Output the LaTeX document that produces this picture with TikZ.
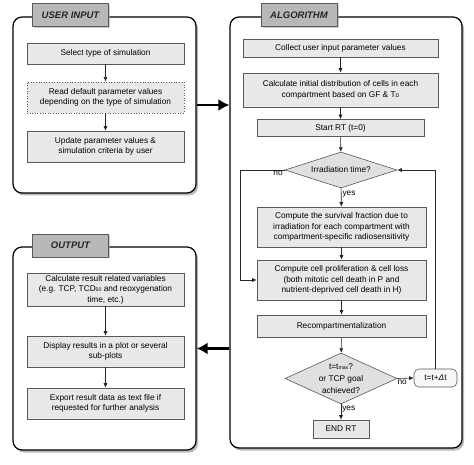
\documentclass[tikz,border=0pt]{standalone}
\usepackage{fontspec}
\setmainfont{Liberation Sans}
\usetikzlibrary{arrows.meta,shapes.geometric,shadows}
\newcommand{\smallsub}[1]{{\fontsize{5.2}{5.2}\selectfont #1}}

\begin{document}
\begin{tikzpicture}[
    x=1pt, y=-1pt,
    every node/.style={font=\fontsize{8.3}{10.5}\selectfont},
    frame/.style={rectangle, rounded corners=9pt, draw=black, line width=1.2pt,
        fill=white, drop shadow={shadow xshift=2pt, shadow yshift=-2.5pt, fill=black!55}},
    tab/.style={rectangle, draw=black!65, line width=0.8pt, fill=black!28,
        minimum width=76pt, minimum height=23pt, text=black!85,
        font=\fontsize{9.5}{11}\selectfont\bfseries\itshape,
        drop shadow={shadow xshift=1.5pt, shadow yshift=-1.5pt, fill=black!40}},
    stepbox/.style={rectangle, draw=black!65, line width=0.6pt, fill=black!9,
        align=center, inner sep=2pt},
    dotbox/.style={stepbox, dotted, line width=0.8pt},
    decision/.style={diamond, draw=black!65, line width=0.6pt, fill=black!12,
        align=center, inner sep=0pt, minimum width=112pt},
    conn/.style={draw=black!85, line width=0.6pt, -{Latex[length=4.5pt,width=4pt]}},
    bigarrow/.style={draw=black, line width=2.5pt, -{Latex[length=11pt,width=12pt]}},
    lbl/.style={font=\fontsize{8.3}{9}\selectfont, inner sep=1pt},
]
\useasboundingbox (0,0) rectangle (474,465);

% frames
\node[frame, minimum width=183pt, minimum height=176pt] (uiframe) at (104.5,105) {};
\node[frame, minimum width=232pt, minimum height=431pt] (algframe) at (346,232.5) {};
\node[frame, minimum width=183pt, minimum height=203pt] (outframe) at (104.5,348.5) {};

\node[tab] (uitab) at (70.5,15) {USER INPUT};
\node[tab] (algtab) at (299,15) {ALGORITHM};
\node[tab] (outtab) at (70.5,245.5) {OUTPUT};

% user input
\node[stepbox, minimum width=157pt, minimum height=21pt] (ui1) at (105.5,53.5) {Select type of simulation};
\node[dotbox, minimum width=157pt, minimum height=31pt] (ui2) at (105.5,97.5)
    {Read default parameter values\\depending on the type of simulation};
\node[stepbox, minimum width=157pt, minimum height=31pt] (ui3) at (105.5,146.5)
    {Update parameter values \&\\simulation criteria by user};

% algorithm
\node[stepbox, minimum width=195pt, minimum height=18pt] (a1) at (340.5,48) {Collect user input parameter values};
\node[stepbox, minimum width=195pt, minimum height=34pt] (a2) at (340.5,90)
    {Calculate initial distribution of cells in each\\compartment based on GF \& T\smallsub{D}};
\node[stepbox, minimum width=167pt, minimum height=17pt] (a3) at (340.5,128) {Start RT (t=0)};
\node[decision, minimum height=36pt, aspect=3.1] (d1) at (341,170) {Irradiation time?};
\node[stepbox, minimum width=169pt, minimum height=40pt] (a4) at (341.5,227)
    {Compute the survival fraction due to\\irradiation for each compartment with\\compartment-specific radiosensitivity};
\node[stepbox, minimum width=169pt, minimum height=40pt] (a5) at (341.5,280)
    {Compute cell proliferation \& cell loss\\(both mitotic cell death in P and\\nutrient-deprived cell death in H)};
\node[stepbox, minimum width=169pt, minimum height=22pt] (a6) at (341.5,326) {Recompartmentalization};
\node[decision, minimum height=51pt, aspect=2.2, font=\fontsize{8.3}{12}\selectfont] (d2) at (341,378.5)
    {t=t\smallsub{max}?\\or TCP goal\\achieved?};
\node[stepbox, rounded corners=5pt, fill=black!3, minimum width=43pt, minimum height=18pt] (tstep) at (435.5,378)
    {t=t+\textit{Δ}t};
\node[stepbox, minimum width=56pt, minimum height=18pt] (endrt) at (341,429) {END RT};

% output
\node[stepbox, minimum width=157pt, minimum height=32pt] (o1) at (105.5,289.5)
    {Calculate result related variables\\(e.g. TCP, TCD\smallsub{50} and reoxygenation\\time, etc.)};
\node[stepbox, minimum width=157pt, minimum height=31pt] (o2) at (105.5,351.5)
    {Display results in a plot or several\\sub-plots};
\node[stepbox, minimum width=157pt, minimum height=31pt] (o3) at (105.5,403.5)
    {Export result data as text file if\\requested for further analysis};

% connectors
\draw[conn] (ui1) -- (ui2);
\draw[conn] (ui2) -- (ui3);
\draw[conn] (a1) -- (a2);
\draw[conn] (a2) -- (a3);
\draw[conn] (a3) -- (d1);
\draw[conn] (d1) -- node[lbl, anchor=west, pos=0.3] {yes} (a4);
\draw[conn] (a4) -- (a5);
\draw[conn] (a5) -- (a6);
\draw[conn] (a6) -- (d2);
\draw[conn] (d2) -- node[lbl, anchor=west, pos=0.3] {yes} (endrt);
\draw[conn] (d1.west) -- node[lbl, anchor=north, pos=0.15] {no} ++(-44,0) |- (a5.west);
\draw[conn] (d2.east) -- node[lbl, anchor=north, pos=0.3] {no} (tstep.west);
\draw[conn] (tstep.north) |- (d1.east);
\draw[conn] (o1) -- (o2);
\draw[conn] (o2) -- (o3);

\draw[bigarrow] (uiframe.east) -- (algframe.west |- uiframe.east);
\draw[bigarrow] (algframe.west |- outframe.east) -- (outframe.east);
\end{tikzpicture}
\end{document}
